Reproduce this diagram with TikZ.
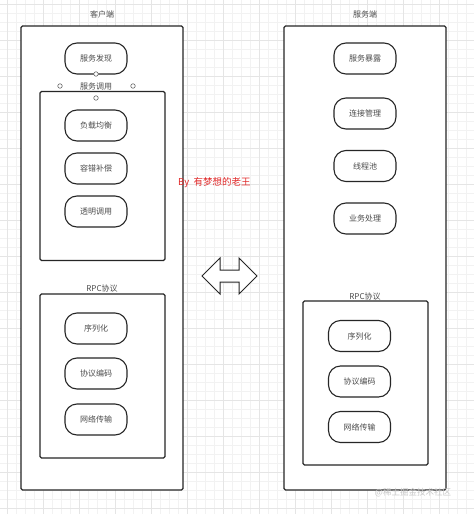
\documentclass[tikz,border=0pt]{standalone}
\usepackage{fontspec}
\newfontfamily\cjk{Noto Sans CJK SC}
\begin{document}
\begin{tikzpicture}[x=1pt,y=-1pt,
  frame/.style={draw=black!85, line width=1.1pt, fill=white, rounded corners=1.5pt, inner sep=0pt},
  pill/.style={draw=black!85, line width=1.1pt, fill=white, rounded corners=12pt, minimum width=62pt, minimum height=31pt, inner sep=0pt, font=\cjk\fontsize{8}{9}\selectfont, text=black!70},
  lbl/.style={font=\cjk\fontsize{8}{9}\selectfont, text=black!70, inner sep=0pt},
  handle/.style={circle, draw=black!60, line width=0.6pt, fill=white, minimum size=4.5pt, inner sep=0pt},
  bigarrow/.style={draw=black!85, line width=1pt, fill=white, line join=miter}]
\useasboundingbox (0,0) rectangle (474,514);
\fill[white] (0,0) rectangle (474,514);
% grid
\foreach \x in {7,16,...,474} \draw[black!5, line width=0.4pt] (\x,0) -- (\x,514);
\foreach \y in {4,13,...,514} \draw[black!5, line width=0.4pt] (0,\y) -- (474,\y);
\foreach \x in {7,43,...,474} \draw[black!10, line width=0.5pt] (\x,0) -- (\x,514);
\foreach \y in {4,40,...,514} \draw[black!10, line width=0.5pt] (0,\y) -- (474,\y);

% client side
\node[lbl] (ctitle) at (102,14) {客户端};
\node[frame, minimum width=162pt, minimum height=464pt] (client) at (102,258) {};
\node[pill] (fxfx) at (96,58.5) {服务发现};
\node[lbl] (dytitle) at (96,86) {服务调用};
\node[frame, minimum width=125pt, minimum height=169pt] (dybox) at (102.5,176) {};
\node[pill] (fzjh) at (96,125.5) {负载均衡};
\node[pill] (rcbc) at (96,168.5) {容错补偿};
\node[pill] (tmdy) at (96,211.5) {透明调用};
\node[lbl] (crpct) at (102,288) {RPC协议};
\node[frame, minimum width=125pt, minimum height=164pt] (crpc) at (102.5,376) {};
\node[pill] (cxlh) at (96,328.5) {序列化};
\node[pill] (cxybm) at (96,373.5) {协议编码};
\node[pill] (cwlcs) at (96,419.5) {网络传输};
\node[handle] (h1) at (96,74) {};
\node[handle] (h2) at (60,86) {};
\node[handle] (h3) at (133,86) {};
\node[handle] (h4) at (96,98) {};

% server side
\node[lbl] (stitle) at (365,14) {服务端};
\node[frame, minimum width=162pt, minimum height=464pt] (server) at (365,258) {};
\node[pill] (fwbl) at (365,58.5) {服务暴露};
\node[pill] (ljgl) at (365,113.5) {连接管理};
\node[pill] (xcc) at (365,166) {线程池};
\node[pill] (ywcl) at (365,218.5) {业务处理};
\node[lbl] (srpct) at (365,296) {RPC协议};
\node[frame, minimum width=125pt, minimum height=164pt] (srpc) at (365.5,383) {};
\node[pill] (sxlh) at (359.5,336) {序列化};
\node[pill] (sxybm) at (359.5,381.5) {协议编码};
\node[pill] (swlcs) at (359.5,427) {网络传输};

% double arrow
\draw[bigarrow] (202,276) -- (220,258) -- (220,270) -- (239,270) -- (239,258) -- (257,276)
  -- (239,294) -- (239,282) -- (220,282) -- (220,294) -- cycle;

% annotations
\node[anchor=west, font=\cjk\fontsize{9.5}{11}\selectfont, text={rgb,255:red,225;green,40;blue,40}, inner sep=0pt] (by) at (178,183) {By\ \ 有梦想的老王};
\node[font=\cjk\fontsize{8.5}{10}\selectfont, text=black!22, inner sep=0pt] (wm) at (413,493) {@稀土掘金技术社区};
\end{tikzpicture}
\end{document}
